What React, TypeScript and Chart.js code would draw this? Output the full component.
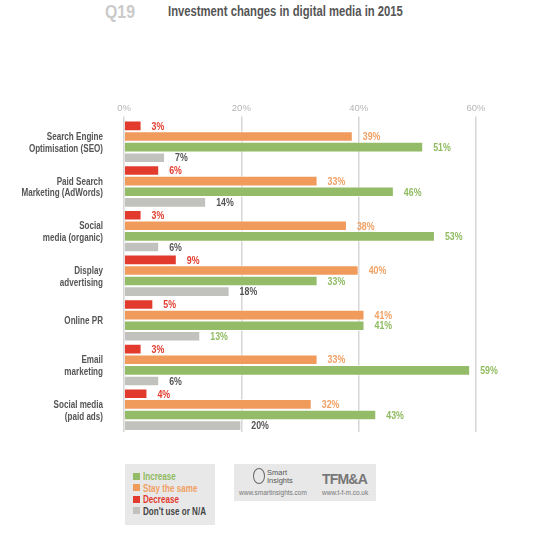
import React, { useEffect, useRef } from "react";
import { Chart, registerables } from "chart.js";

Chart.register(...registerables);

const categories: string[][] = [
  ["Search Engine", "Optimisation (SEO)"],
  ["Paid Search", "Marketing (AdWords)"],
  ["Social", "media (organic)"],
  ["Display", "advertising"],
  ["Online PR"],
  ["Email", "marketing"],
  ["Social media", "(paid ads)"],
];

const decrease = [3, 6, 3, 9, 5, 3, 4];
const staySame = [39, 33, 38, 40, 41, 33, 32];
const increase = [51, 46, 53, 33, 41, 59, 43];
const notUsed = [7, 14, 6, 18, 13, 6, 20];

const xTicks = [0, 20, 40, 60];

const RED = "#e23b2e";
const ORANGE = "#f09a5c";
const GREEN = "#93bb68";
const GREY = "#c1c1bd";

const RED_TXT = "#e23b2e";
const ORANGE_TXT = "#f0a062";
const GREEN_TXT = "#8fbb60";
const DARK_TXT = "#555555";

const FONT = '"Liberation Sans", Arial, sans-serif';

const valueLabelColors: string[][] = [
  decrease.map(() => RED_TXT),
  staySame.map(() => ORANGE_TXT),
  increase.map(() => GREEN_TXT),
  notUsed.map((_, i) => (i === 4 ? GREEN_TXT : DARK_TXT)),
];

// draws condensed text (no condensed font is installed, so squeeze horizontally)
function squeezedText(ctx: any, text: string, x: number, y: number, sx: number) {
  ctx.save();
  ctx.translate(x, y);
  ctx.scale(sx, 1);
  ctx.fillText(text, 0, 0);
  ctx.restore();
}

const labelPlugin = {
  id: "labels",
  afterDatasetsDraw(chart: any) {
    const ctx = chart.ctx;
    ctx.save();
    // value labels
    ctx.font = `bold 10px ${FONT}`;
    ctx.textBaseline = "middle";
    ctx.textAlign = "left";
    chart.data.datasets.forEach((ds: any, di: number) => {
      const meta = chart.getDatasetMeta(di);
      meta.data.forEach((el: any, i: number) => {
        ctx.fillStyle = valueLabelColors[di][i];
        squeezedText(ctx, `${ds.data[i]}%`, el.x + 10, el.y + 1, 0.88);
      });
    });
    // category labels
    const yScale = chart.scales.y;
    ctx.font = `bold 11px ${FONT}`;
    ctx.textAlign = "right";
    ctx.fillStyle = "#555555";
    const lh = 11.7;
    categories.forEach((lines, i) => {
      const cy = yScale.getPixelForValue(i);
      const start = cy - ((lines.length - 1) * lh) / 2 + 1;
      lines.forEach((line, j) => {
        squeezedText(ctx, line, chart.chartArea.left - 21, start + j * lh, 0.735);
      });
    });
    ctx.restore();
  },
};

function BarChart() {
  const ref = useRef<HTMLCanvasElement | null>(null);
  useEffect(() => {
    if (!ref.current) return;
    const chart = new Chart(ref.current, {
      type: "bar",
      data: {
        labels: categories.map((c) => c.join(" ")),
        datasets: [
          { label: "Decrease", data: decrease, backgroundColor: RED },
          { label: "Stay the same", data: staySame, backgroundColor: ORANGE },
          { label: "Increase", data: increase, backgroundColor: GREEN },
          { label: "Don't use or N/A", data: notUsed, backgroundColor: GREY },
        ].map((d) => ({
          ...d,
          borderColor: "rgba(255,255,255,0.6)",
          borderWidth: 1,
          categoryPercentage: 0.95,
          barPercentage: 1,
        })),
      },
      options: {
        indexAxis: "y",
        animation: false,
        responsive: false,
        maintainAspectRatio: false,
        devicePixelRatio: 1,
        layout: { padding: { left: 0, right: 74, top: 0, bottom: 8 } },
        plugins: {
          legend: { display: false },
          tooltip: { enabled: false },
        },
        scales: {
          x: {
            position: "top",
            min: 0,
            max: 60,
            afterFit(scale: any) {
              scale.height = 24.5;
            },
            afterBuildTicks(scale: any) {
              scale.ticks = xTicks.map((v) => ({ value: v }));
            },
            grid: {
              color: "#d6d6d6",
              lineWidth: 1.5,
              drawTicks: true,
              tickLength: 3,
              tickColor: "#d6d6d6",
            },
            border: { display: false },
            ticks: {
              padding: 2,
              color: "#b5b5b5",
              font: { family: FONT, size: 9.5 },
              callback: (v: any) => `${v}%`,
            },
          },
          y: {
            afterFit(scale: any) {
              scale.width = 124;
            },
            grid: { display: false, drawTicks: false },
            border: { display: false },
            ticks: { display: false },
          },
        },
      },
      plugins: [labelPlugin],
    } as any);
    return () => chart.destroy();
  }, []);
  return (
    <canvas
      ref={ref}
      width={550}
      height={345}
      style={{ position: "absolute", left: 0, top: 95, width: 550, height: 345 }}
    />
  );
}

const legendItems = [
  { label: "Increase", color: GREEN, text: GREEN_TXT },
  { label: "Stay the same", color: ORANGE, text: ORANGE_TXT },
  { label: "Decrease", color: RED, text: RED_TXT },
  { label: "Don't use or N/A", color: GREY, text: "#444444" },
];

function Squeeze({ sx, children, style }: { sx: number; children: any; style?: any }) {
  return (
    <span
      style={{
        display: "inline-block",
        transform: `scaleX(${sx})`,
        transformOrigin: "left center",
        whiteSpace: "nowrap",
        ...style,
      }}
    >
      {children}
    </span>
  );
}

export default function App() {
  return (
    <div
      style={{
        position: "fixed",
        left: 0,
        top: 0,
        width: 550,
        height: 537,
        background: "#ffffff",
        fontFamily: FONT,
        overflow: "hidden",
      }}
    >
      <div style={{ position: "absolute", left: 105, top: 1, lineHeight: "22px" }}>
        <Squeeze sx={0.835} style={{ fontSize: 19, fontWeight: "bold", color: "#cacaca" }}>
          Q19
        </Squeeze>
      </div>
      <div style={{ position: "absolute", left: 168, top: 3, lineHeight: "16px" }}>
        <Squeeze sx={0.805} style={{ fontSize: 14, fontWeight: "bold", color: "#555555" }}>
          Investment changes in digital media in 2015
        </Squeeze>
      </div>
      <BarChart />
      <div
        style={{
          position: "absolute",
          left: 125,
          top: 464,
          width: 90,
          height: 61,
          background: "#e8e8e8",
        }}
      >
        {legendItems.map((it, i) => (
          <div
            key={it.label}
            style={{
              position: "absolute",
              left: 8,
              top: 6 + i * 11.6,
              display: "flex",
              alignItems: "center",
              height: 12,
              whiteSpace: "nowrap",
            }}
          >
            <div style={{ width: 7, height: 7, background: it.color, marginRight: 3, flexShrink: 0 }} />
            <Squeeze sx={0.77} style={{ fontSize: 10.5, fontWeight: "bold", color: it.text, lineHeight: "12px" }}>
              {it.label}
            </Squeeze>
          </div>
        ))}
      </div>
      <div
        style={{
          position: "absolute",
          left: 234,
          top: 464,
          width: 142,
          height: 37,
          background: "#e8e8e8",
        }}
      >
        <div
          style={{
            position: "absolute",
            left: 19,
            top: 4,
            width: 12,
            height: 16,
            borderRadius: "50%",
            border: "1.5px solid #666",
            boxSizing: "border-box",
          }}
        />
        <div
          style={{
            position: "absolute",
            left: 33,
            top: 5,
            fontSize: 7.5,
            lineHeight: "7.5px",
            color: "#555",
          }}
        >
          Smart
          <br />
          Insights
        </div>
        <div
          style={{
            position: "absolute",
            left: 88,
            top: 8,
            fontSize: 14,
            fontWeight: "bold",
            color: "#777",
            letterSpacing: -0.8,
            lineHeight: "14px",
          }}
        >
          TFM&amp;A
        </div>
        <div style={{ position: "absolute", left: 5, top: 25, fontSize: 6.5, color: "#777", whiteSpace: "nowrap" }}>
          www.smartinsights.com
        </div>
        <div style={{ position: "absolute", left: 88, top: 25, fontSize: 6.5, color: "#777", whiteSpace: "nowrap" }}>
          www.t-f-m.co.uk
        </div>
      </div>
    </div>
  );
}
